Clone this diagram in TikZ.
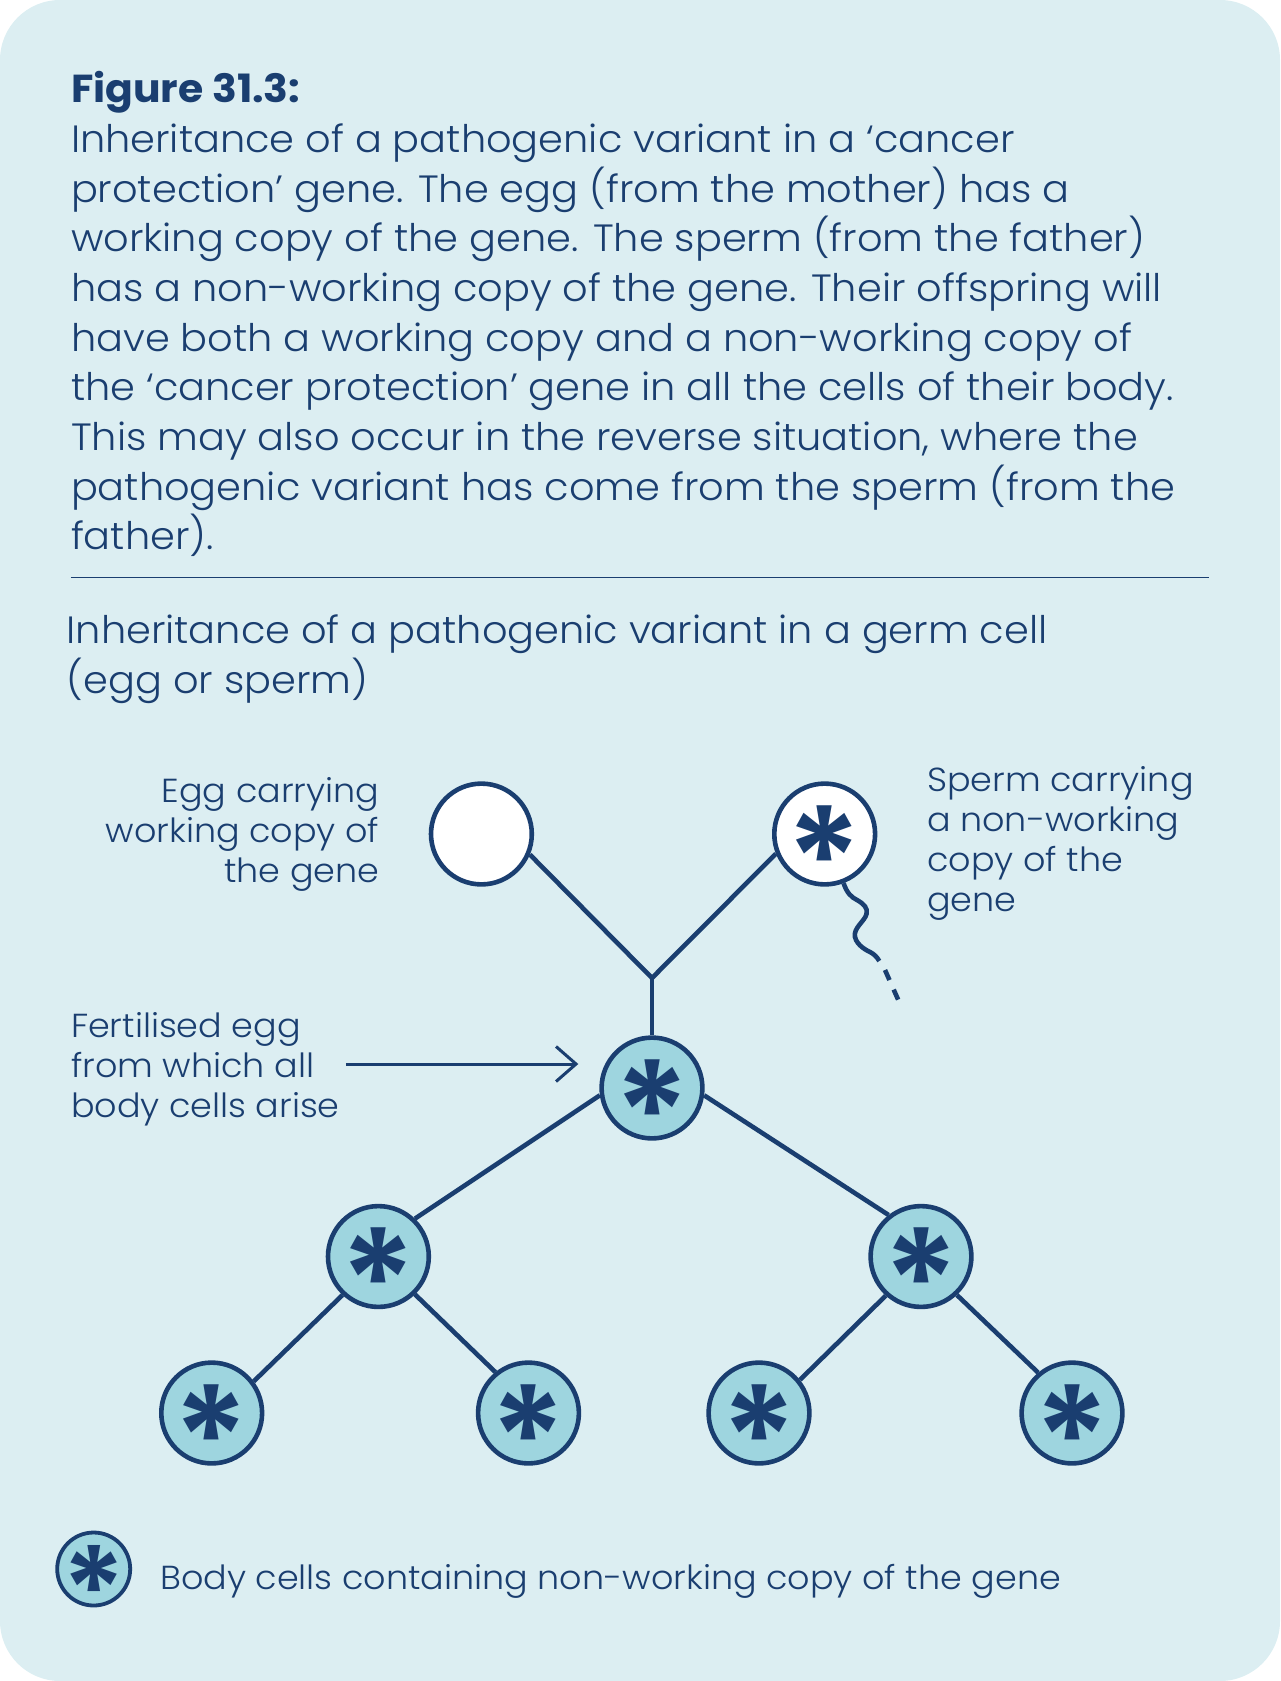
\documentclass[tikz,border=0pt]{standalone}
\usepackage{fontspec}
\usepackage{tikz}
\usetikzlibrary{arrows.meta, positioning}
\setmainfont{Poppins}[UprightFont=* Light, BoldFont=* Bold, FakeStretch=1.05]
\newfontface\starfont{Poppins SemiBold}
\definecolor{panelbg}{HTML}{DCEEF2}
\definecolor{cellfill}{HTML}{9ED5DF}
\definecolor{navy}{HTML}{1A3E70}
\newcommand{\cellstar}{\raisebox{-0.544em}[0pt][0pt]{\makebox[0pt]{*}}}

\begin{document}
\begin{tikzpicture}[
  x=1pt, y=-1pt,
  cell/.style = {circle, draw=navy, line width=4.6pt, fill=cellfill, text=navy, inner sep=0pt, minimum size=100.8pt, on grid, font=\starfont\fontsize{146}{146}\selectfont},
  gamete/.style = {cell, fill=white},
  keycell/.style = {cell, line width=3.8pt, minimum size=73pt, font=\starfont\fontsize{122}{122}\selectfont},
  link/.style = {navy, line width=4.6pt},
  bigtext/.style = {text=navy, inner sep=0pt, align=left, font=\fontsize{38}{49.65}\selectfont},
  smalltext/.style = {text=navy, inner sep=0pt, font=\fontsize{33.3}{40}\selectfont}
]
  \useasboundingbox (0,0) rectangle (1280,1681);

  % Panel
  \fill[panelbg, rounded corners=60pt] (0,0) rectangle (1280,1681);

  % Caption
  \node[bigtext, anchor=north west] (caption) at (70.8,71.5) {
    \textbf{\fontsize{39}{49.65}\selectfont Figure 31.3:}\\
    Inheritance of a pathogenic variant in a ‘cancer\\
    protection’ gene. The egg (from the mother) has a\\
    working copy of the gene. The sperm (from the father)\\
    has a non-working copy of the gene. Their offspring will\\
    have both a working copy and a non-working copy of\\
    the ‘cancer protection’ gene in all the cells of their body.\\
    This may also occur in the reverse situation, where the\\
    pathogenic variant has come from the sperm (from the\\
    father).
  };
  \coordinate (ruleleft) at (70.8,577.5);
  \coordinate (ruleright) at (1209,577.5);
  \draw[navy, line width=1.6pt] (ruleleft) -- (ruleright);

  % Heading
  \node[bigtext, anchor=north west] (heading) at (66.5,614.5) {
    Inheritance of a pathogenic variant in a germ cell\\
    (egg or sperm)
  };

  % Egg and sperm
  \node[gamete] (egg) at (481.4,834) {};
  \node[gamete, right=343.3pt of egg] (sperm) {\cellstar};
  \coordinate (joint) at (652,978);

  % Fertilised egg
  \node[cell] (fert) at (652,1088) {\cellstar};

  % Body cells
  \node[cell, below left=168.5pt and 273.6pt of fert] (bodyl) {\cellstar};
  \node[cell, below right=168.5pt and 269pt of fert] (bodyr) {\cellstar};
  \node[cell, below left=156.5pt and 166.7pt of bodyl] (bodya) {\cellstar};
  \node[cell, below right=156.5pt and 150.1pt of bodyl] (bodyb) {\cellstar};
  \node[cell, below left=156.5pt and 162pt of bodyr] (bodyc) {\cellstar};
  \node[cell, below right=156.5pt and 151pt of bodyr] (bodyd) {\cellstar};

  % Key
  \node[keycell] (key) at (93.7,1569) {\cellstar};
  \node[smalltext, anchor=west] (keytext) at (160,1581) {Body cells containing non-working copy of the gene};

  % Labels
  \node[smalltext, align=right, anchor=north east] (egglabel) at (379.5,777) {
    Egg carrying\\ working copy of\\ the gene
  };
  \node[smalltext, align=left, anchor=north west] (spermlabel) at (927,766) {
    Sperm carrying\\ a non-working\\ copy of the\\ gene
  };
  \node[smalltext, align=left, anchor=north west] (fertlabel) at (70.8,1012.5) {
    Fertilised egg\\ from which all\\ body cells arise
  };

  % egg, sperm -> fertilised egg
  \draw[link] (egg.-23) -- (joint);
  \draw[link] (sperm.202) -- (joint);
  \draw[link] (joint) -- (fert);

  % fertilised egg -> body cells
  \draw[link] (fert.188) -- (bodyl.46);
  \draw[link] (fert.-8) -- (bodyr.128);
  \draw[link] (bodyl.227) -- (bodya.37);
  \draw[link] (bodyl.-46) -- (bodyb.129);
  \draw[link] (bodyr.228) -- (bodyc.39);
  \draw[link] (bodyr.-47) -- (bodyd.130);

  % Sperm tail
  \coordinate (tailend) at (879.3,961);
  \coordinate (dashstart) at (885,970);
  \coordinate (dashend) at (898.3,1000);
  \draw[link] (sperm.-69) .. controls (847,893) and (851,897) .. (857,900)
    .. controls (864,904) and (868,908) .. (866.5,914)
    .. controls (865,921) and (853,928) .. (855,937)
    .. controls (857,946) and (868,951) .. (870,952)
    .. controls (874,954) and (877,957) .. (tailend);
  \draw[link, dash pattern=on 11pt off 10.4pt] (dashstart) -- (dashend);

  % Arrow to fertilised egg
  \coordinate (fertin) at (578.3,1064);
  \draw[navy, line width=3pt, -{Straight Barb[length=20pt, width=35pt]}] ([xshift=6pt]fertin -| fertlabel.east) -- (fertin);

\end{tikzpicture}
\end{document}
